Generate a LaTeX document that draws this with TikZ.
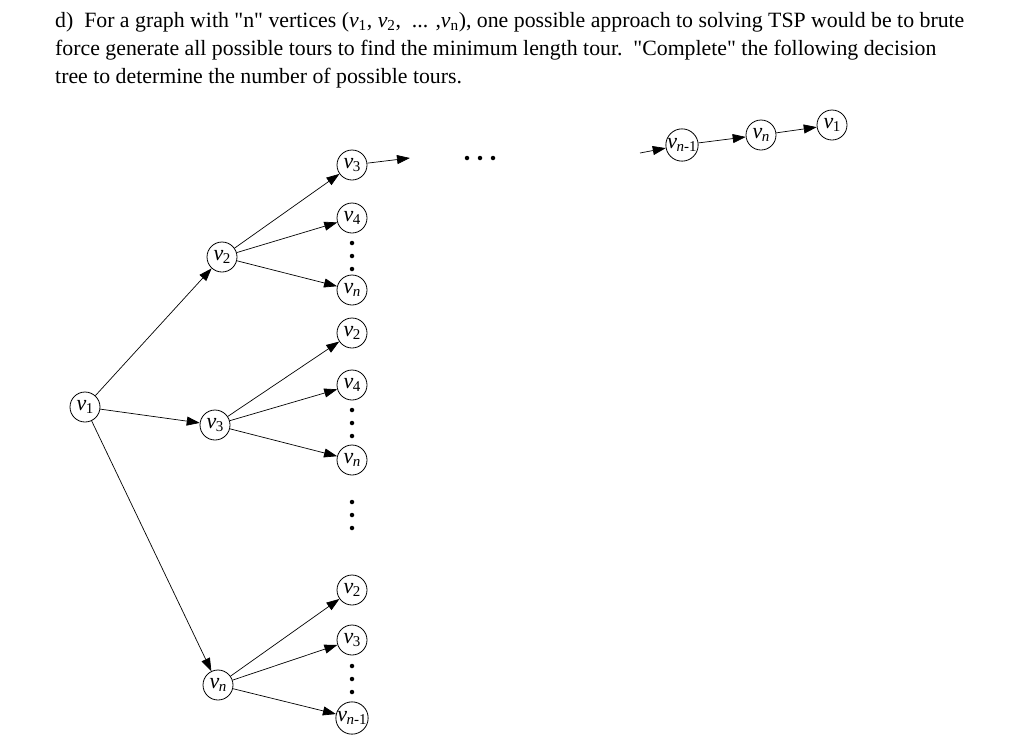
\documentclass[tikz,border=0pt]{standalone}
\usepackage{fontspec}
\setmainfont{Liberation Serif}
\usetikzlibrary{arrows.meta}
\newcommand{\vv}[1]{\textit{v}\textsubscript{#1}}
\newcommand{\lb}[1]{\textit{v}\kern-0.5pt\raisebox{-0.35ex}{\fontsize{15}{15}\selectfont #1}}
\begin{document}
\begin{tikzpicture}[x=1pt,y=-1pt,
  vert/.style={circle,draw,line width=0.8pt,minimum size=30pt,inner sep=0pt,font=\fontsize{22}{22}\selectfont},
  arr/.style={line width=0.7pt,-{Triangle[length=13pt,width=9pt]}},
  dot/.style={circle,fill,inner sep=0pt,minimum size=4.5pt}]
\useasboundingbox (0,0) rectangle (1024,753);
\node[anchor=north west,align=left,font=\fontsize{21.8}{28}\selectfont,inner sep=0pt] (txt) at (55,12)
 {d)\ \ For a graph with \textquotedbl n\textquotedbl\ vertices (\vv{1}, \vv{2}, \ ... ,\vv{n}), one possible approach to solving TSP would be to brute\\
 force generate all possible tours to find the minimum length tour.\ \ \textquotedbl Complete\textquotedbl\ the following decision\\
 tree to determine the number of possible tours.};
\node[vert] (a) at (85,407) {\lb{1}};
\node[vert] (b2) at (222,257) {\lb{2}};
\node[vert] (b3) at (215,425) {\lb{3}};
\node[vert] (bn) at (218,685) {\lb{\textit{n}}};
\node[vert] (c1) at (352,165) {\lb{3}};
\node[vert] (c2) at (352,218) {\lb{4}};
\node[vert] (c3) at (352,290) {\lb{\textit{n}}};
\node[vert] (d1) at (352,333) {\lb{2}};
\node[vert] (d2) at (352,385) {\lb{4}};
\node[vert] (d3) at (352,460) {\lb{\textit{n}}};
\node[vert] (e1) at (352,590) {\lb{2}};
\node[vert] (e2) at (352,640) {\lb{3}};
\node[vert] (e3) at (352,718) {\lb{\textit{n}-1}};
\foreach \y in {243,256,269} \node[dot] at (352,\y) {};
\foreach \y in {410,423,436} \node[dot] at (352,\y) {};
\foreach \y in {666,679,692} \node[dot] at (352,\y) {};
\foreach \y in {502,515,528} \node[dot] at (352,\y) {};
\foreach \x in {467,480,493} \node[dot] at (\x,158) {};
\coordinate (c1o) at (410,158);
\draw[arr] (a) -- (b2); \draw[arr] (a) -- (b3); \draw[arr] (a) -- (bn);
\draw[arr] (b2) -- (c1); \draw[arr] (b2) -- (c2); \draw[arr] (b2) -- (c3);
\draw[arr] (b3) -- (d1); \draw[arr] (b3) -- (d2); \draw[arr] (b3) -- (d3);
\draw[arr] (bn) -- (e1); \draw[arr] (bn) -- (e2); \draw[arr] (bn) -- (e3);
\draw[arr] (c1) -- (c1o);
\coordinate (s) at (640,153);
\node[vert] (t1) at (682,145) {\lb{\textit{n}-1}};
\node[vert] (t2) at (761,135) {\lb{\textit{n}}};
\node[vert] (t3) at (832,125) {\lb{1}};
\draw[arr] (s) -- (t1); \draw[arr] (t1) -- (t2); \draw[arr] (t2) -- (t3);
\end{tikzpicture}
\end{document}
